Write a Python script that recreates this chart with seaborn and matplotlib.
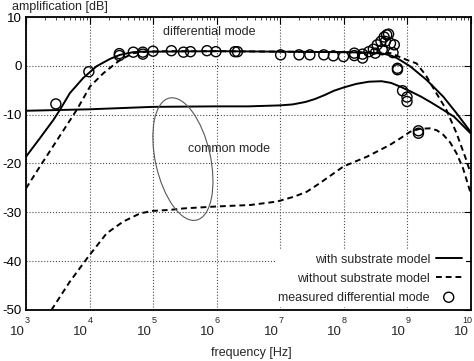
import numpy as np
import pandas as pd
import matplotlib
matplotlib.use("Agg")
import matplotlib.pyplot as plt
import matplotlib.transforms as mtransforms
from matplotlib.patches import Ellipse
from matplotlib.ticker import LogLocator, NullFormatter
import seaborn as sns

# log10(frequency) and amplification [dB]
diff_sub_logf = [3.0, 3.22, 3.43, 3.535, 3.69, 3.9, 4.11, 4.32, 4.48, 4.69, 4.85, 5.0,
                 6.0, 7.0, 8.0, 8.4, 8.62, 8.75, 8.84, 9.05, 9.31, 9.57, 9.78, 10.0]
diff_sub_db = [-18.6, -14.8, -11.1, -9.0, -5.6, -2.5, -0.1, 1.4, 2.25, 2.8, 2.9, 2.9,
               3.0, 2.9, 2.8, 2.7, 2.5, 2.1, 1.6, -0.1, -2.9, -6.3, -9.7, -13.5]

diff_nosub_logf = [3.0, 3.2, 3.4, 3.6, 3.8, 4.01, 4.22, 4.48, 4.69, 4.9, 5.2,
                   6.0, 7.0, 8.0, 8.5, 8.74, 9.0, 9.15, 9.3, 9.43, 9.62, 9.78, 9.94, 10.0]
diff_nosub_db = [-25.1, -21.0, -17.0, -13.0, -9.0, -4.2, -1.5, 1.2, 2.6, 2.9, 3.0,
                 3.0, 2.9, 2.8, 2.75, 2.6, 1.2, 0.5, -2.0, -4.9, -9.0, -13.8, -19.5, -22.0]

cm_sub_logf = [3.0, 4.0, 5.0, 6.0, 6.5, 7.0, 7.2, 7.4, 7.55, 7.7, 7.85, 8.01, 8.2, 8.4,
               8.6, 8.75, 8.9, 9.05, 9.22, 9.38, 9.53, 9.74, 10.0]
cm_sub_db = [-9.2, -8.9, -8.4, -8.3, -8.3, -8.1, -7.9, -7.4, -6.8, -6.0, -5.1, -4.4, -3.7, -3.25,
             -3.15, -3.5, -4.3, -5.2, -6.3, -7.5, -8.7, -10.4, -13.8]

cm_nosub_logf = [3.4, 3.69, 3.98, 4.27, 4.53, 4.8, 5.0, 5.27, 5.48, 6.0, 6.53, 6.95,
                 7.22, 7.42, 7.63, 8.0, 8.37, 8.73, 8.9, 9.05, 9.2, 9.36, 9.47, 9.57,
                 9.68, 9.78, 9.88, 9.94, 10.0]
cm_nosub_db = [-50.0, -44.2, -39.1, -34.3, -31.9, -30.2, -29.7, -29.5, -29.2, -28.8, -28.5, -27.8,
               -26.8, -25.8, -24.0, -20.6, -18.6, -16.2, -14.8, -13.5, -12.9, -12.8, -13.2, -14.1,
               -15.7, -17.9, -20.9, -23.4, -26.0]

meas_logf = [3.47, 3.99, 4.47, 4.47, 4.69, 4.84, 4.84, 5.0, 5.29, 5.48, 5.59, 5.85, 5.99,
             6.29, 6.33, 7.01, 7.30, 7.47, 7.69, 7.84, 8.0, 8.17, 8.17, 8.30, 8.30, 8.40,
             8.47, 8.50, 8.53, 8.59, 8.64, 8.68, 8.71, 8.66, 8.74, 8.80, 8.61, 8.78,
             8.85, 8.85, 8.93, 9.0, 9.0, 9.18, 9.18]
meas_db = [-7.8, -1.2, 2.1, 2.5, 2.8, 2.8, 2.4, 3.0, 3.1, 2.8, 2.9, 3.1, 2.9,
           2.9, 2.9, 2.25, 2.25, 2.25, 2.25, 2.05, 1.9, 2.6, 2.1, 2.4, 1.6, 2.9,
           3.4, 2.6, 4.3, 5.0, 5.9, 6.35, 6.5, 5.0, 4.6, 4.3, 3.3, 2.7,
           -0.5, -0.8, -5.1, -6.4, -7.3, -13.3, -13.8]

decades = list(range(3, 11))
y_ticks = [10, 0, -10, -20, -30, -40, -50]


def curve(logf, db):
    return pd.DataFrame({"f": 10.0 ** np.array(logf), "db": db})


sns.set_style("white")
plt.rcParams["font.family"] = ["Liberation Sans", "DejaVu Sans"]

fig = plt.figure(figsize=(4.74, 3.61), dpi=100)
ax = fig.add_axes([26 / 474, 1 - 310 / 361, 444.5 / 474, 293 / 361])

dash = (0, (3, 2))
sns.lineplot(data=curve(diff_sub_logf, diff_sub_db), x="f", y="db", ax=ax,
             color="black", lw=1.4, label="with substrate model")
sns.lineplot(data=curve(diff_nosub_logf, diff_nosub_db), x="f", y="db", ax=ax,
             color="black", lw=1.4, linestyle=dash, label="without substrate model")
sns.lineplot(data=curve(cm_sub_logf, cm_sub_db), x="f", y="db", ax=ax,
             color="black", lw=1.4, label="_nolegend_")
sns.lineplot(data=curve(cm_nosub_logf, cm_nosub_db), x="f", y="db", ax=ax,
             color="black", lw=1.4, linestyle=dash, label="_nolegend_")
sns.scatterplot(data=curve(meas_logf, meas_db), x="f", y="db", ax=ax,
                marker="o", s=52, facecolor="none", edgecolor="black", linewidth=1.0,
                label="measured differential mode", zorder=3)

ax.set_xscale("log")
ax.set_xlim(1e3, 1e10)
ax.set_ylim(-50, 10)
ax.set_xticks([10.0 ** k for k in decades])
ax.set_xticklabels([])
ax.xaxis.set_minor_locator(LogLocator(base=10, subs=np.arange(2, 10), numticks=100))
ax.xaxis.set_minor_formatter(NullFormatter())
ax.set_yticks(y_ticks)
ax.set_yticklabels([str(v) for v in y_ticks], fontsize=9.5)
ax.set_xlabel("")
ax.set_ylabel("")
ax.tick_params(which="major", direction="in", length=5, width=0.8,
               top=True, right=True, pad=3, colors="black")
ax.tick_params(which="minor", direction="in", length=2.5, width=0.6, top=True, right=True)
ax.grid(True, which="major", linestyle=":", color="0.3", lw=0.8)
for sp in ax.spines.values():
    sp.set_linewidth(1.3)
    sp.set_color("black")

# gnuplot style "10^k" tick labels
for k in decades:
    shift = -2.5 if k == decades[-1] else 0.5
    ax.annotate("10", xy=(10.0 ** k, 0), xycoords=("data", "axes fraction"),
                xytext=(-1, -16), textcoords="offset points",
                ha="right", va="center", fontsize=9.5)
    ax.annotate(str(k), xy=(10.0 ** k, 0), xycoords=("data", "axes fraction"),
                xytext=(shift, -7.5), textcoords="offset points",
                ha="center", va="center", fontsize=6.5)

ax.text(0.412, 0.949, "differential mode", transform=ax.transAxes,
        ha="center", va="center", fontsize=9)
ax.text(0.457, 0.549, "common mode", transform=ax.transAxes,
        ha="center", va="center", fontsize=9)

# ellipse marking the common mode curves
etrans = fig.dpi_scale_trans + mtransforms.ScaledTranslation(0.353, 0.515, ax.transAxes)
ax.add_patch(Ellipse((0, 0), width=0.55, height=1.25, angle=12.5, transform=etrans,
                     fill=False, edgecolor="0.35", lw=0.8, zorder=2))

leg = ax.legend(loc="lower right", bbox_to_anchor=(1.003, -0.012), markerfirst=False,
                frameon=True, facecolor="white", edgecolor="none", framealpha=1,
                fontsize=9, handlelength=2.1, handletextpad=0.45, labelspacing=0.55,
                borderpad=0.3)

fig.text(12 / 474, 1 - 7 / 361, "amplification [dB]", ha="left", va="center", fontsize=9)
fig.text(251 / 474, 1 - 353 / 361, "frequency [Hz]", ha="center", va="center", fontsize=9)

fig.savefig("out.png", dpi=100)
